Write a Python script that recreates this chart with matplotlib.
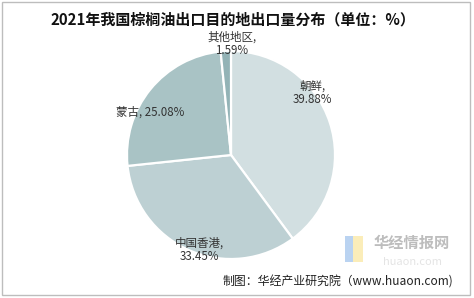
import matplotlib.pyplot as plt
from matplotlib.patches import Rectangle

plt.rcParams['font.family'] = ['Noto Sans CJK SC', 'DejaVu Sans']

regions = ['朝鲜', '中国香港', '蒙古', '其他地区']
shares = [39.88, 33.45, 25.08, 1.59]
colors = ['#d2dfe1', '#bdd0d3', '#a9c3c5', '#93b3b6']
title = '2021年我国棕榈油出口目的地出口量分布（单位：%）'
source = '制图：华经产业研究院（www.huaon.com)'

W, H = 474, 298
fig = plt.figure(figsize=(W / 100, H / 100), dpi=100)
fig.patch.set_facecolor('white')

# outer frame
fig.add_artist(Rectangle((1.5 / W, 1 - 294.5 / H), 468.5 / W, 293 / H, transform=fig.transFigure,
                         fill=False, edgecolor='#bdbdbd', linewidth=1))

# pie centred at (231, 155) px, radius 104 px
cx, cy, r = 231, 155, 104
ax = fig.add_axes([(cx - r) / W, (H - cy - r) / H, 2 * r / W, 2 * r / H])
ax.pie(shares, colors=colors, startangle=90, counterclock=False,
       wedgeprops=dict(edgecolor='white', linewidth=1.6))
ax.set_xlim(-1, 1)
ax.set_ylim(-1, 1)
ax.set_aspect('equal')
ax.axis('off')

# labels (relative to pie radius)
label_pos = {
    '朝鲜': (0.78, 0.60),
    '中国香港': (-0.30, -0.91),
    '蒙古': (-0.78, 0.41),
    '其他地区': (0.01, 1.07),
}
for name, val in zip(regions, shares):
    x, y = label_pos[name]
    if name == '蒙古':
        txt = f'{name}, {val:.2f}%'
    else:
        txt = f'{name},\n{val:.2f}%'
    ax.text(x, y, txt, ha='center', va='center', fontsize=8.3, color='#333333',
            linespacing=1.0, clip_on=False)

fig.text(233 / W, 1 - 20 / H, title, ha='center', va='center', fontsize=10.8,
         fontweight='bold', color='#111111')

# watermark
fig.add_artist(Rectangle((345 / W, 1 - 262 / H), 8 / W, 26 / H, transform=fig.transFigure,
                         facecolor='#a9c8ee', edgecolor='none', alpha=0.8))
fig.add_artist(Rectangle((353 / W, 1 - 262 / H), 10 / W, 26 / H, transform=fig.transFigure,
                         facecolor='#fbe9a8', edgecolor='none', alpha=0.8))
fig.text(412 / W, 1 - 243 / H, '华经情报网', ha='center', va='center', fontsize=11,
         fontweight='bold', color='#bdbdbd')
fig.text(412 / W, 1 - 262 / H, 'huaon.com', ha='center', va='center', fontsize=8,
         color='#e4e4e4')

fig.text(453 / W, 1 - 282 / H, source, ha='right', va='center', fontsize=8.6, color='#222222')

fig.savefig('out.png', dpi=100)
